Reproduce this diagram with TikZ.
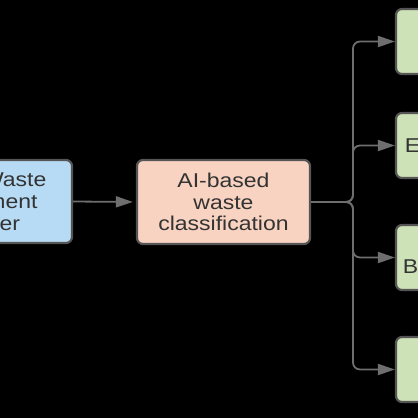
\documentclass[tikz,border=0pt]{standalone}
\usepackage{fontspec}
\setmainfont{Liberation Sans}[FakeStretch=1.15]
\usetikzlibrary{arrows.meta}
\definecolor{boxblue}{HTML}{B7DBF4}
\definecolor{boxsalmon}{HTML}{F9D3C1}
\definecolor{boxgreen}{HTML}{CDE2B6}
\definecolor{boxline}{HTML}{555555}
\definecolor{linegray}{HTML}{6E6E6E}
\definecolor{txtgray}{HTML}{333333}

\begin{document}
\begin{tikzpicture}[x=1pt,y=-1pt,
    box/.style={draw=boxline,line width=2.2pt,rounded corners=6pt,text=txtgray,
      align=center,inner sep=0pt,font=\fontsize{20pt}{21.7pt}\selectfont},
    catbox/.style={box,fill=boxgreen,minimum width=162pt,minimum height=65pt},
    conn/.style={draw=linegray,line width=1.8pt,rounded corners=7pt,
      -{Triangle[length=17pt,width=11pt]}}]
  \fill[black] (0,0) rectangle (418,418);
  \useasboundingbox (0,0) rectangle (418,418);

  \node[box,fill=boxblue,minimum width=173pt,minimum height=83pt] (layer) at (-14.5,201.5)
    {Solid Waste\\Treatment\\Center};
  \node[box,fill=boxsalmon,minimum width=173pt,minimum height=84pt] (ai) at (223.5,202)
    {AI-based\\waste\\classification};

  % categories
  \node[catbox] (rec) at (477,41.5) {Recyclable};
  \node[catbox] (ewaste) at (477,145.5) {E-waste items};
  \node[catbox] (bio) at (477,257.5) {Organic\\Biodegradable};
  \node[catbox] (haz) at (477,369.5) {Hazardous};

  \draw[conn,shorten >=3pt] (layer.east) -- (ai.west);
  \coordinate (split) at (353,202);
  \draw[conn] (ai.east) -- (split) |- (rec.west);
  \draw[conn] (ai.east) -- (split) |- (ewaste.west);
  \draw[conn] (ai.east) -- (split) |- (bio.west);
  \draw[conn] (ai.east) -- (split) |- (haz.west);
  %\draw[conn] (split) -- ++(0,-20);
\end{tikzpicture}
\end{document}
